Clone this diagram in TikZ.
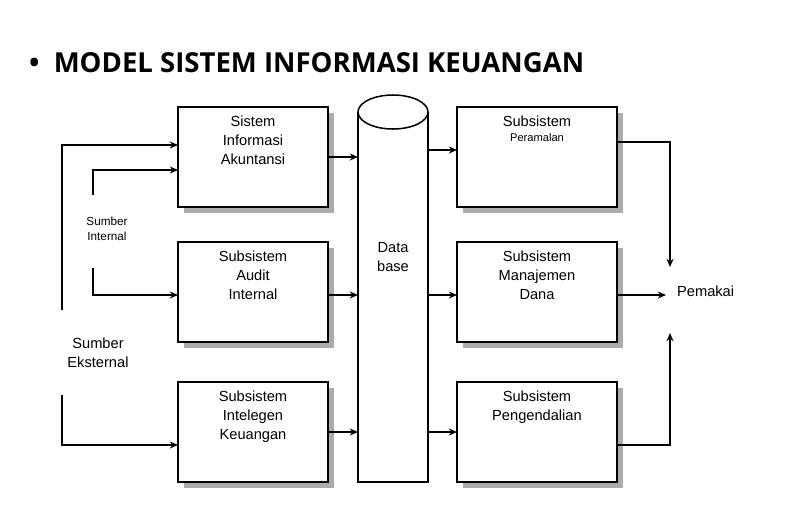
\documentclass[tikz,border=0pt]{standalone}
\usepackage{fontspec}
\setmainfont{Liberation Sans}
\newfontfamily\titlefont{Open Sans}
\usetikzlibrary{arrows.meta}
\begin{document}
\begin{tikzpicture}[x=0.03cm,y=-0.03cm,
  lbl/.style={align=center,font=\fontsize{12.5}{16}\selectfont},
  arr/.style={line width=1.3pt,-{Stealth[length=7pt,width=6pt]}},
  ln/.style={line width=1.3pt}]
\useasboundingbox (0,0) rectangle (785,521);
\node[anchor=west,font=\titlefont\bfseries\fontsize{23.5}{28}\selectfont] (title) at (25,63) {\textbullet\ \ MODEL SISTEM INFORMASI KEUANGAN};
% shadows
\foreach \x/\w in {178/150,457/160}{\foreach \y in {107,242,382}{\fill[gray!65] (\x+6,\y+6) rectangle (\x+\w+6,\y+106);}}
% left boxes
\draw[ln,fill=white] (178,107) rectangle (328,207);
\draw[ln,fill=white] (178,242) rectangle (328,342);
\draw[ln,fill=white] (178,382) rectangle (328,482);
\node[lbl,anchor=north] (l1) at (253,112) {Sistem\\Informasi\\Akuntansi};
\node[lbl,anchor=north] (l2) at (253,247) {Subsistem\\Audit\\Internal};
\node[lbl,anchor=north] (l3) at (253,387) {Subsistem\\Intelegen\\Keuangan};
% right boxes
\draw[ln,fill=white] (457,107) rectangle (617,207);
\draw[ln,fill=white] (457,242) rectangle (617,342);
\draw[ln,fill=white] (457,382) rectangle (617,482);
\node[lbl,anchor=north,align=center] (r1) at (537,112) {Subsistem\\[-3pt]{\fontsize{9.5}{11}\selectfont Peramalan}};
\node[lbl,anchor=north] (r2) at (537,247) {Subsistem\\Manajemen\\Dana};
\node[lbl,anchor=north] (r3) at (537,387) {Subsistem\\Pengendalian};
% cylinder
\draw[ln,fill=white] (358,112) -- (358,482) -- (428,482) -- (428,112);
\draw[ln,fill=white] (393,112) ellipse [x radius=35,y radius=17];
\node[lbl] (db) at (393,257) {Data\\base};
% labels
\node[lbl,font=\fontsize{10}{12.5}\selectfont] (si) at (107,229) {Sumber\\Internal};
\node[lbl] (se) at (98,353) {Sumber\\Eksternal};
\node[lbl,anchor=west] (pm) at (673,291) {Pemakai};
% left connectors
\draw[arr] (62,310) -- (62,145) -- (178,145);
\draw[arr] (62,395) -- (62,445) -- (178,445);
\draw[arr] (93,195) -- (93,170) -- (178,170);
\draw[arr] (93,268) -- (93,295) -- (178,295);
\foreach \y in {157,295,432}{\draw[arr] (328,\y) -- (358,\y);}
\foreach \y in {150,295,432}{\draw[arr] (428,\y) -- (457,\y);}
% right connectors
\draw[arr] (617,142) -- (670,142) -- (670,267);
\draw[arr] (617,295) -- (666,295);
\draw[arr] (617,445) -- (670,445) -- (670,333);
\end{tikzpicture}
\end{document}
